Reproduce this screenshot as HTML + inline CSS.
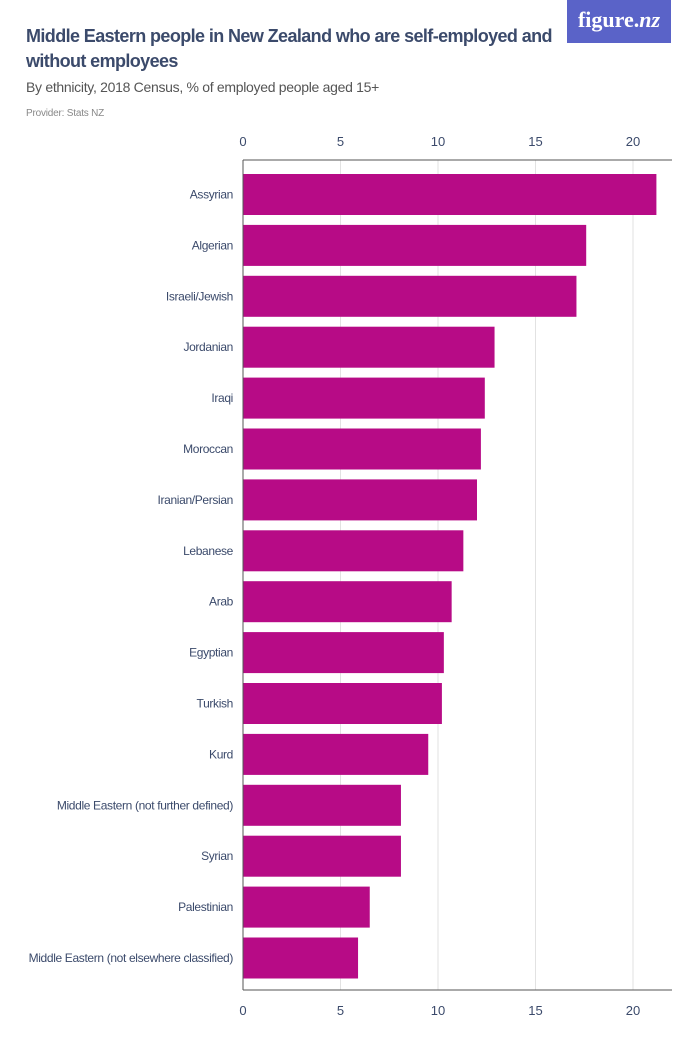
<!DOCTYPE html>
<html><head><meta charset="utf-8"><style>
body{margin:0;background:#fff;font-family:"Liberation Sans",sans-serif;}
#wrap{position:relative;width:700px;height:1050px;overflow:hidden;}
.t{position:absolute;color:#3b4a6b;white-space:nowrap;}
</style></head><body>
<div id="wrap">
<div class="t" style="left:26px;top:24px;font-size:18px;font-weight:bold;line-height:25px;letter-spacing:-0.6px;">Middle Eastern people in New Zealand who are self-employed and<br>without employees</div>
<div class="t" style="left:26px;top:79px;font-size:14px;letter-spacing:-0.3px;color:#555;">By ethnicity, 2018 Census, % of employed people aged 15+</div>
<div class="t" style="left:26px;top:108px;font-size:10px;letter-spacing:-0.2px;color:#888;">Provider: Stats NZ</div>
<div style="position:absolute;left:567px;top:0;width:104px;height:43px;background:#5a63c8;color:#fff;font-family:'Liberation Serif',serif;font-size:22px;font-weight:bold;text-align:center;line-height:40px;">figure.<i>nz</i></div>
<svg id="chart" width="700" height="1050" style="position:absolute;left:0;top:0"></svg>
</div>
<script>
const categories=["Assyrian","Algerian","Israeli/Jewish","Jordanian","Iraqi","Moroccan","Iranian/Persian","Lebanese","Arab","Egyptian","Turkish","Kurd","Middle Eastern (not further defined)","Syrian","Palestinian","Middle Eastern (not elsewhere classified)"];
const values=[21.2,17.6,17.1,12.9,12.4,12.2,12.0,11.3,10.7,10.3,10.2,9.5,8.1,8.1,6.5,5.9];
const ticks=[0,5,10,15,20];
const svg=document.getElementById('chart');
const NS='http://www.w3.org/2000/svg';
const x0=243,pxPer=19.5,top0=174,pitch=50.9,bh=41,axTop=160,axBot=990;
const xs=v=>x0+v*pxPer;
function mk(tag,attrs){const e=document.createElementNS(NS,tag);for(const k in attrs)e.setAttribute(k,attrs[k]);svg.appendChild(e);return e;}
ticks.forEach(t=>{
  const g=mk('line',{x1:xs(t),x2:xs(t),y1:axTop,y2:axBot,stroke:'#e2e2e2','stroke-width':1});
  
  
  [146,1015].forEach((y,i)=>{
    const tx=mk('text',{x:xs(t),y:y,'text-anchor':'middle','font-size':13,fill:'#3b4a6b','font-family':'Liberation Sans, sans-serif'});
    tx.textContent=t;
    
    
  });
});
[axTop,axBot].forEach((y,i)=>{
  const l=mk('line',{x1:x0,x2:672,y1:y,y2:y,stroke:'#555','stroke-width':1});
  
  
});
categories.forEach((c,i)=>{
  const y=top0+i*pitch;
  const r=mk('rect',{x:x0,y:y,width:xs(values[i])-x0,height:bh,fill:'#b70b86'});
  
  
  const tx=mk('text',{x:233,y:y+bh/2+4,'text-anchor':'end','font-size':12,'letter-spacing':'-0.35',fill:'#3b4a6b','font-family':'Liberation Sans, sans-serif'});
  tx.textContent=c;
  
  
});
const ax=mk('line',{x1:x0,x2:x0,y1:axTop,y2:axBot,stroke:'#555','stroke-width':1});


</script>
</body></html>
